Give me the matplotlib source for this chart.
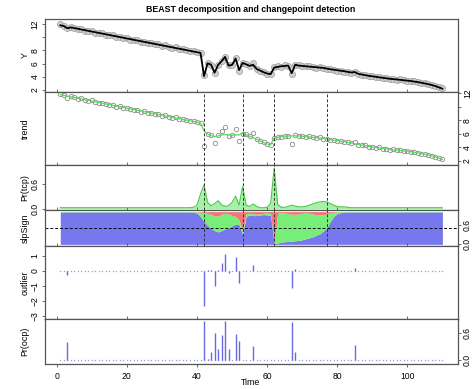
import numpy as np
import matplotlib
matplotlib.use('Agg')
import matplotlib.pyplot as plt

plt.rcParams['font.family'] = ['Liberation Sans', 'DejaVu Sans']

# ---- data (t = 1..110) ----
t = list(range(1, 111))

y_obs = [11.95, 11.75, 11.35, 11.55, 11.45, 11.20, 11.25, 11.00, 10.90, 10.95,
         10.70, 10.60, 10.60, 10.40, 10.30, 10.30, 10.05, 10.10, 9.85, 9.90,
         9.65, 9.55, 9.60, 9.30, 9.35, 9.10, 9.15, 8.90, 8.95, 8.70,
         8.75, 8.50, 8.40, 8.45, 8.20, 8.20, 8.00, 7.85, 7.95, 7.70,
         7.60, 4.20, 6.05, 5.80, 4.60, 5.85, 6.40, 7.00, 5.75, 5.80,
         6.80, 4.90, 6.05, 5.95, 5.70, 6.10, 5.25, 4.90, 4.75, 4.45,
         4.40, 5.45, 5.60, 5.50, 5.75, 5.70, 4.50, 5.85, 5.75, 5.70,
         5.60, 5.65, 5.50, 5.40, 5.50, 5.30, 5.20, 5.15, 5.10, 4.95,
         4.95, 4.80, 4.80, 4.60, 4.75, 4.40, 4.30, 4.30, 4.10, 4.10,
         3.95, 4.00, 3.80, 3.80, 3.65, 3.70, 3.55, 3.60, 3.45, 3.40,
         3.30, 3.30, 3.15, 3.05, 3.00, 2.85, 2.75, 2.60, 2.45, 2.30]

trend = [11.80, 11.70, 11.60, 11.49, 11.38, 11.28, 11.17, 11.07, 10.96, 10.86,
         10.75, 10.65, 10.55, 10.44, 10.34, 10.23, 10.13, 10.02, 9.92, 9.81,
         9.71, 9.60, 9.50, 9.40, 9.29, 9.19, 9.08, 8.98, 8.88, 8.77,
         8.67, 8.56, 8.46, 8.35, 8.25, 8.15, 8.04, 7.94, 7.83, 7.73,
         7.62, 6.45, 6.00, 5.75, 5.60, 5.70, 5.85, 5.90, 5.85, 5.80,
         5.85, 5.85, 6.10, 5.90, 5.65, 5.45, 5.20, 4.95, 4.70, 4.50,
         4.40, 5.40, 5.50, 5.60, 5.65, 5.70, 5.70, 5.72, 5.70, 5.65,
         5.60, 5.55, 5.50, 5.45, 5.40, 5.35, 5.25, 5.15, 5.08, 5.00,
         4.92, 4.85, 4.75, 4.65, 4.55, 4.45, 4.35, 4.25, 4.15, 4.08,
         4.00, 3.92, 3.85, 3.78, 3.70, 3.65, 3.60, 3.54, 3.48, 3.42,
         3.36, 3.28, 3.20, 3.10, 3.00, 2.88, 2.75, 2.60, 2.40, 2.20]

changepoints = [42, 53, 62, 77]

pr_tcp = ([0.02] * 38 +
          [0.03, 0.08, 0.35, 0.57, 0.15, 0.07, 0.12, 0.19, 0.09, 0.05,
           0.07, 0.15, 0.30, 0.08, 0.53, 0.08, 0.05, 0.11, 0.05, 0.02,
           0.02, 0.03, 0.12, 0.97, 0.10, 0.03, 0.03, 0.05, 0.08, 0.06,
           0.04, 0.04, 0.05, 0.08, 0.11, 0.14, 0.16, 0.17, 0.16, 0.12,
           0.08, 0.05, 0.04, 0.04, 0.03] +
          [0.02] * 27)

# slope sign probabilities: negative (blue), positive (red); zero is the rest
slp_neg = ([0.99] * 39 +
           [0.95, 0.85, 0.70, 0.58, 0.49, 0.42, 0.38, 0.42, 0.47, 0.50,
            0.57, 0.62, 0.60, 0.30, 0.85, 0.90, 0.88, 0.88, 0.90, 0.91,
            0.90, 0.88, 0.02, 0.04, 0.07, 0.08, 0.09, 0.10, 0.11, 0.12,
            0.14, 0.17, 0.20, 0.23, 0.28, 0.32, 0.40, 0.50, 0.70, 0.85,
            0.94, 0.97] +
           [0.99] * 29)
slp_pos = ([0.0] * 39 +
           [0.01, 0.02, 0.04, 0.05, 0.08, 0.13, 0.14, 0.08, 0.05, 0.06,
            0.12, 0.15, 0.25, 0.60, 0.06, 0.05, 0.06, 0.08, 0.07, 0.05,
            0.04, 0.06, 0.96, 0.05, 0.03, 0.04, 0.06, 0.08, 0.08, 0.07,
            0.05, 0.04, 0.05, 0.07, 0.09, 0.10, 0.09, 0.07, 0.04, 0.02,
            0.01] +
           [0.0] * 30)

outlier_t = [3, 42, 43, 44, 45, 46, 47, 48, 49, 51, 52, 56, 67, 68, 85]
outlier_v = [-0.25, -2.35, 0.05, 0.10, -0.97, 0.10, 0.50, 1.12, -0.15, 0.92,
             -0.82, 0.38, -1.15, 0.12, 0.18]
ocp_prob = [0.40, 0.88, 0.03, 0.19, 0.60, 0.25, 0.55, 0.88, 0.25, 0.58,
            0.42, 0.32, 0.86, 0.19, 0.34]

# ---- derived series ----
t = np.array(t)
trend = np.array(trend)
outlier = np.zeros(len(t))
outlier[np.array(outlier_t) - 1] = outlier_v
fitted = trend + outlier
neg = np.array(slp_neg)
pos = np.array(slp_pos)

# ---- layout ----
W, H = 474, 389
fig = plt.figure(figsize=(W / 100, H / 100), dpi=100)
left, right = 45 / W, 457.7 / W
edges = [19, 92, 165, 210, 246, 319, 364]
frame = '#555555'
fs = 6.2

axs = []
for i in range(6):
    top, bot = edges[i], edges[i + 1]
    ax = fig.add_axes([left, 1 - bot / H, right - left, (bot - top) / H])
    ax.set_xlim(-3.36, 114.36)
    ax.set_xticks([0, 20, 40, 60, 80, 100])
    for s in ax.spines.values():
        s.set_color(frame)
        s.set_linewidth(0.9)
    ax.tick_params(colors=frame, labelcolor='black', labelsize=fs,
                   length=2.5, width=0.6, pad=1.5)
    if i < 5:
        ax.tick_params(axis='x', direction='in', labelbottom=False)
    else:
        ax.tick_params(axis='x', direction='out', pad=3)
    if i % 2 == 1:
        ax.yaxis.tick_right()
    axs.append(ax)

blue = '#7777ee'
green = '#77ee77'
red = '#ee7777'
stem = '#6a6ade'

# panel 1: Y
ax = axs[0]
ax.fill_between(t, fitted - 0.3, fitted + 0.3, color='#d0d0d0', lw=0)
ax.plot(t, y_obs, 'o', ms=4.4, mfc='#cfcfcf', mec='#9a9a9a', mew=0.5)
ax.plot(t, fitted, color='black', lw=1.3)
ax.set_ylim(1.7, 12.76)
ax.set_yticks([2, 4, 6, 8, 10, 12])
ax.set_yticklabels(['2', '4', '6', '8', '', '12'])

# panel 2: trend
ax = axs[1]
ax.plot(t, y_obs, 'o', ms=3.2, mfc='none', mec='#8c8c8c', mew=0.6)
ax.plot(t, trend, color='#55dd55', lw=0.9)
ax.set_ylim(1.4, 12.2)
ax.set_yticks([2, 4, 6, 8, 10, 12])
ax.set_yticklabels(['2', '4', '6', '8', '', '12'])

# panel 3: Pr(tcp)
ax = axs[2]
ax.fill_between(t, 0, pr_tcp, color='#a8f0a8', lw=0)
ax.plot(t, pr_tcp, color='#44cc44', lw=0.8)
ax.set_ylim(-0.035, 1.05)
ax.set_yticks([0.0, 0.6])
ax.set_yticklabels(['0.0', '0.6'])

# panel 4: slpSign
ax = axs[3]
ax.fill_between(t, 0, neg, color=blue, lw=0)
ax.fill_between(t, neg, 1 - pos, color=green, lw=0)
ax.fill_between(t, 1 - pos, 1, color=red, lw=0)
ax.axhline(0.5, color='black', lw=0.7, ls=(0, (3, 2)))
ax.set_ylim(-0.05, 1.05)
ax.set_yticks([0.0, 0.6])
ax.set_yticklabels(['0.0', '0.6'])

# changepoint lines through panels 2-4
for ax in axs[1:4]:
    for cp in changepoints:
        ax.axvline(cp, color='#333333', lw=0.7, ls=(0, (3, 2)), zorder=5)

# panel 5: outlier
ax = axs[4]
ax.plot(t, np.zeros(len(t)), 's', ms=0.9, color='#9a9ae6', mew=0)
ax.vlines(outlier_t, 0, outlier_v, color=stem, lw=1.0)
ax.set_ylim(-3.18, 1.66)
ax.set_yticks([-3, -2, -1, 0, 1])

# panel 6: Pr(ocp)
ax = axs[5]
ax.plot(t, np.zeros(len(t)), 's', ms=0.9, color='#9a9ae6', mew=0)
ax.vlines(outlier_t, 0, ocp_prob, color=stem, lw=1.0)
ax.set_ylim(-0.09, 0.92)
ax.set_yticks([0.0, 0.6])
ax.set_yticklabels(['0.0', '0.6'])

for ax in axs:
    for lab in ax.get_yticklabels():
        lab.set_rotation(90)
        lab.set_va('center')
        lab.set_ha('center')
    ax.tick_params(axis='y', pad=4.5)

labels = ['Y', 'trend', 'Pr(tcp)', 'slpSign', 'outlier', 'Pr(ocp)']
for i, lab in enumerate(labels):
    yc = 1 - (edges[i] + edges[i + 1]) / 2 / H
    fig.text(25 / W, yc, lab, rotation=90, ha='center', va='center', fontsize=6.4)

fig.text(251 / W, 1 - 9 / H, 'BEAST decomposition and changepoint detection',
         ha='center', va='center', fontsize=6.3, fontweight='bold')
fig.text(251 / W, 1 - 382.5 / H, 'Time', ha='center', va='center', fontsize=6.4)

fig.savefig('out.png', dpi=100)
